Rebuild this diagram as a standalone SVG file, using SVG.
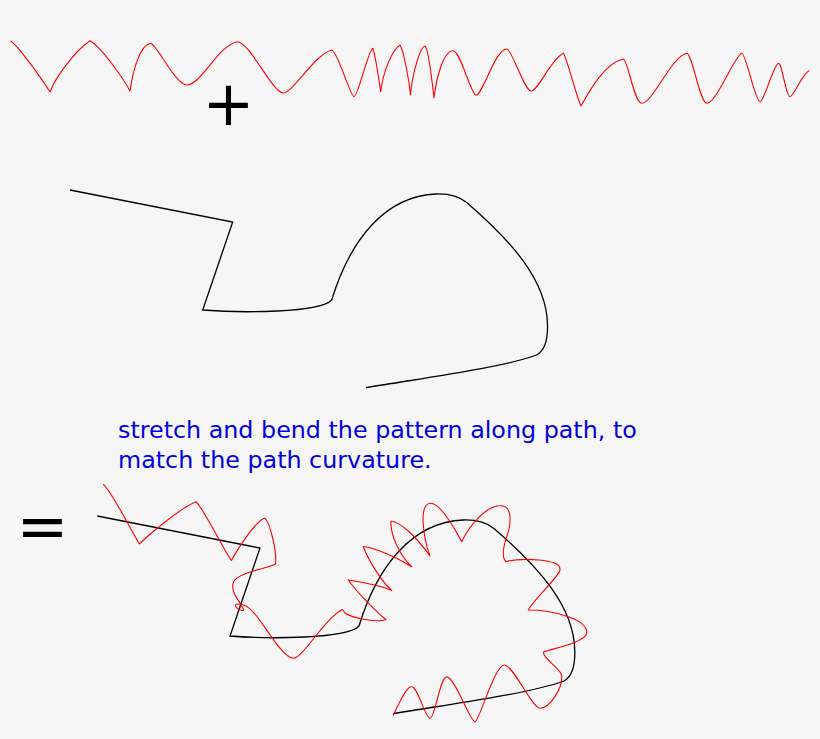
<svg xmlns="http://www.w3.org/2000/svg" xmlns:xlink="http://www.w3.org/1999/xlink" width="820" height="739" viewBox="0 0 820 739">
<style>
.red{fill:none;stroke:#ff0000;stroke-width:1.1;stroke-linejoin:round;stroke-linecap:round}
.blk{fill:none;stroke:#000;stroke-width:1.3;stroke-linejoin:miter}
.sym{font-family:"DejaVu Sans",sans-serif;font-size:62px;fill:#000;text-anchor:middle}
.cap{font-family:"DejaVu Sans",sans-serif;font-size:23.8px;fill:#0000e0}
</style>
<defs>
<path id="skel" d="M70,190 L232.7,222 L202.7,310 C240,313 320,313 331.7,300 C350,240 385,196 436,194 C450,193.5 460,197 467,202.7 C510,240 547,280 547.5,325 C548,345 542,352 536.7,355 C500,368 430,377 366,387.7"/>
</defs>
<rect x="0" y="0" width="820" height="739" fill="#f6f6f6"/>
<g id="pattern">
<path class="red" d="M10.7,41 C18,46 40,76 50,92 C56,76 76,50 90,40.7 C100,46 122,76 130,91 C133,70 140,45 150.7,43.3 C158,46 175,84 186.7,85 C200,86 218,46 237,41.7 C250,42 272,92 283,93 C292,94 315,54 331.7,50 C338,52 350,96 354,96.7 C358,97 368,50 373,48.3 C375,55 379,80 380.7,91.7 C383,72 392,50 400,45 C404,52 409,80 410.5,95 C412,75 420,47 425,46 C428,48 432,80 434,98 C436,80 443,51 453,50.7 C460,50 470,92 475.7,95 C482,97 495,49 506.7,49 C512,49 524,90 530.7,91 C538,92 550,60 563.3,53.3 C566,55 576,95 581,106 C590,90 605,63 623.3,59 C628,60 634,103 641.7,103.3 C652,104 672,56 686.7,53.3 C692,53 700,103 706.7,103.3 C716,104 735,55 741.7,53.3 C746,53 755,101 760,101.7 C764,102 773,66 778.3,63.3 C782,62 786,97 790,96.7 C794,96 802,74 809,70.7"/>
</g>
<g id="plus"><text class="sym" x="228.5" y="124.5">+</text></g>
<g id="path-top"><use xlink:href="#skel" class="blk"/></g>
<g id="caption">
<text class="cap" x="118" y="438">stretch and bend the pattern along path, to</text>
<text class="cap" x="118" y="468">match the path curvature.</text>
</g>
<g id="equals"><text class="sym" x="42.5" y="547.5">=</text></g>
<g id="result">
<use xlink:href="#skel" class="blk" transform="translate(27.3,326)"/>
<path class="red" d="M103.5,484.3 C112,492 132,532 139.5,544 C145,538 180,508 196,501.7 C202,506 225,552 231.5,560.5 C236,552 255,521 265,518 C270,524 277,550 275.5,564 C270,568 238,572 233.5,582 C230,590 238,600 240,603 C242,608 246,611 242,610.5 C236,609 233,604 238,604 C243,604 248,606 253,612 C262,620 282,658 293.3,658.3 C303,658 325,618 342.5,609.5 L345,613 C352,618 378,623 386,619.5 C378,614 355,590 348.3,580 C360,582 380,585 391.7,590.5 C382,582 368,560 363.3,546.5 C375,548 395,556 411.7,566.7 C400,556 390,535 391,521 C400,522 415,535 430,556 C424,540 418,505 430,503.3 C438,502 450,520 461.7,541.7 C468,528 485,506 500,505.7 C512,505 512,522 506.7,536.7 C503,548 502,558 506,561.5 C520,558 562,558 560,570 C558,578 533,600 528.3,610 C550,610 588,618 586.7,633.3 C585,642 555,648 543.5,652 C542,658 560,668 561.7,675 C563,688 550,708 540,708.3 C532,708 515,668 505,665 C495,663 480,720 475,721.7 C470,722 455,677 446.7,676.7 C440,677 435,718 430,718.3 C425,718 418,687 411.7,686.7 C406,686 398,706 393.3,715"/>
</g>
</svg>
